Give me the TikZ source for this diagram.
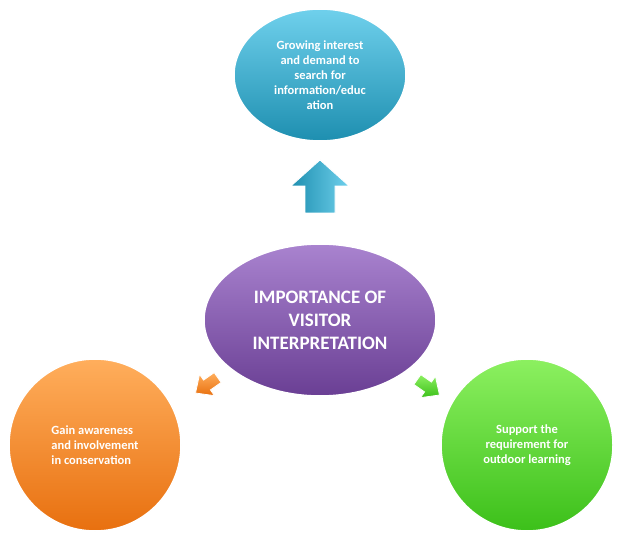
\documentclass[tikz,border=0pt]{standalone}
\usepackage{fontspec}
\setmainfont{Carlito}
\usetikzlibrary{shapes.geometric,shadings}
\definecolor{tealA}{HTML}{1E8FB0}
\definecolor{tealB}{HTML}{6FD0EC}
\definecolor{purA}{HTML}{6A3F94}
\definecolor{purB}{HTML}{A983CF}
\definecolor{orA}{HTML}{E8700F}
\definecolor{orB}{HTML}{FFAE5C}
\definecolor{grA}{HTML}{3CC01A}
\definecolor{grB}{HTML}{8CF060}
\tikzset{
  bubble/.style={ellipse, draw=white, line width=1.5pt, text=white, font=\bfseries\fontsize{12.5}{15}\selectfont, align=center, inner sep=0pt},
  arrline/.style={draw=white, line width=0.8pt},
}
\begin{document}
\begin{tikzpicture}[x=1pt,y=-1pt]
\useasboundingbox (0,0) rectangle (640,545);
\fill[white] (0,0) rectangle (640,545);
\node[bubble, minimum width=172pt, minimum height=132pt, top color=tealB, bottom color=tealA] (top) at (320,75) {Growing interest\\and demand to\\search for\\information/educ\\ation};
\node[bubble, minimum width=232pt, minimum height=152pt, top color=purB, bottom color=purA, font=\bfseries\fontsize{19}{23}\selectfont] (mid) at (320,320) {IMPORTANCE OF\\VISITOR\\INTERPRETATION};
\node[bubble, circle, minimum size=172pt, top color=orB, bottom color=orA, align=left] (left) at (95,445) {Gain awareness\\and involvement\\in conservation};
\node[bubble, circle, minimum size=172pt, top color=grB, bottom color=grA] (right) at (527,445) {Support the\\requirement for\\outdoor learning};
\shadedraw[arrline, left color=tealA, right color=tealB] (305,213) -- (305,186) -- (291,186) -- (320,160) -- (349,186) -- (335,186) -- (335,213) -- cycle;
\begin{scope}[shift={(207,385)}, rotate=215]
\shadedraw[arrline, top color=orB, bottom color=orA] (-13,-6) -- (0,-6) -- (0,-13) -- (14,0) -- (0,13) -- (0,6) -- (-13,6) -- cycle;
\end{scope}
\begin{scope}[shift={(428,387)}, rotate=-35]
\shadedraw[arrline, top color=grB, bottom color=grA] (-13,-6) -- (0,-6) -- (0,-13) -- (14,0) -- (0,13) -- (0,6) -- (-13,6) -- cycle;
\end{scope}
\end{tikzpicture}
\end{document}
